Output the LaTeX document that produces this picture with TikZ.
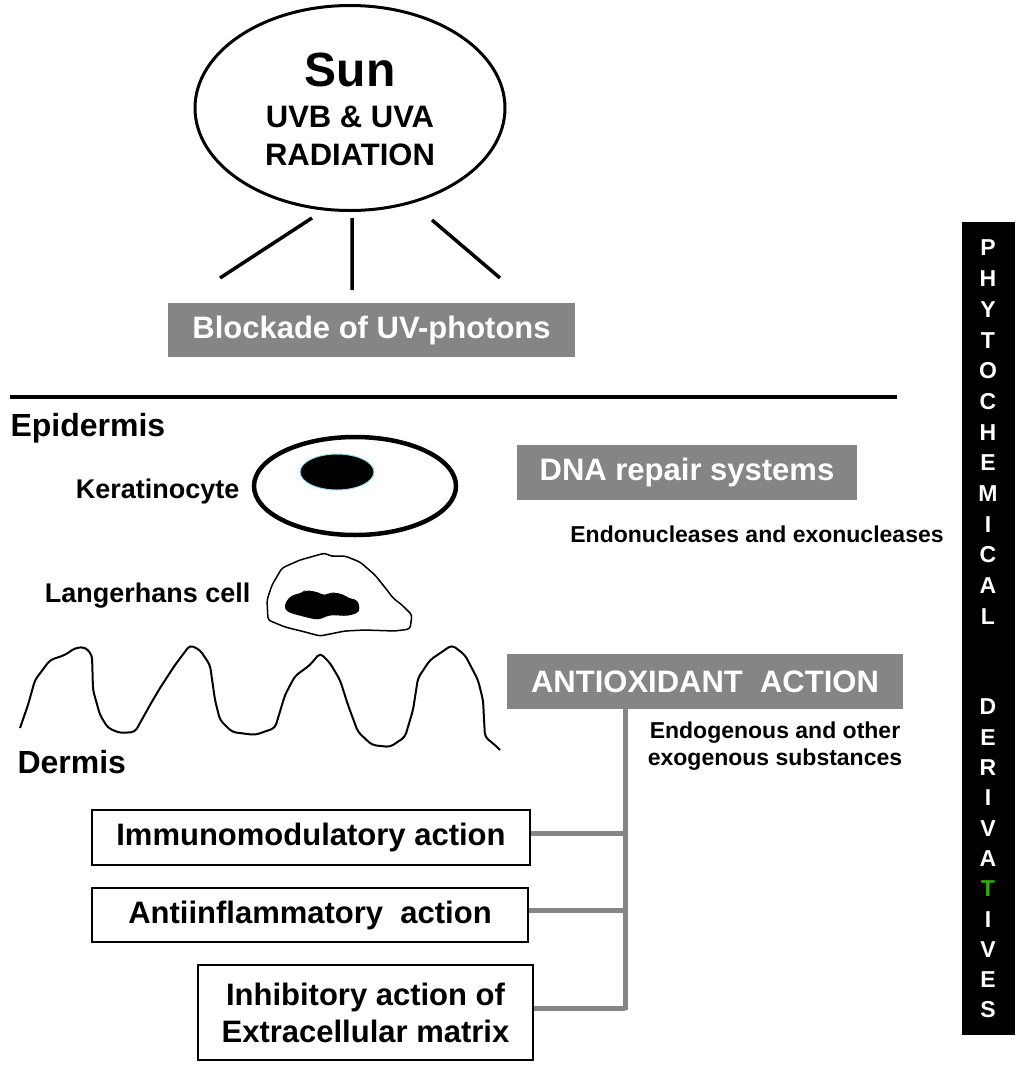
\documentclass[tikz,border=0pt]{standalone}
\usepackage{fontspec}
\setmainfont{Liberation Sans}
\usetikzlibrary{shapes.geometric}
\begin{document}
\begin{tikzpicture}[x=1pt,y=-1pt,
  graybox/.style={fill=black!48,text=white,font=\fontsize{31}{34}\selectfont\bfseries,inner sep=0},
  wbox/.style={draw,line width=2pt,font=\fontsize{31}{37}\selectfont\bfseries,align=center,inner sep=0},
  lbl/.style={font=\fontsize{23}{27}\selectfont\bfseries,align=center},
  cell/.style={font=\fontsize{27}{30}\selectfont\bfseries},
  big/.style={font=\fontsize{32}{36}\selectfont\bfseries},
  barl/.style={text=white,font=\fontsize{23}{23}\selectfont\bfseries},
  conn/.style={draw=black!48,line width=5pt}]
\useasboundingbox (0,0) rectangle (1024,1066);
% sun
\node[ellipse,draw,line width=3pt,minimum width=310,minimum height=205,align=center] (sun) at (350,108) {};
\node[font=\fontsize{48}{52}\selectfont\bfseries] (suntxt) at (350,70) {Sun};
\node[font=\fontsize{31}{38}\selectfont\bfseries,align=center] (uv) at (350,136) {UVB \& UVA\\RADIATION};
\coordinate (r1a) at (312,218); \coordinate (r1b) at (220,278);
\coordinate (r2a) at (352,218); \coordinate (r2b) at (352,290);
\coordinate (r3a) at (432,220); \coordinate (r3b) at (500,278);
\draw[line width=3.5pt] (r1a)--(r1b) (r2a)--(r2b) (r3a)--(r3b);
\node[graybox,minimum width=407,minimum height=54] (block) at (371.5,330) {Blockade of UV-photons};
\coordinate (hl) at (10,397); \coordinate (hr) at (897,397);
\draw[line width=4pt] (hl)--(hr);
\node[big,anchor=west] (epi) at (7,428) {Epidermis};
% keratinocyte
\node[ellipse,draw,line width=4.5pt,minimum width=202,minimum height=98,inner sep=0] (kc) at (355,486) {};
\node[ellipse,fill=black,draw=cyan!40,line width=1pt,minimum width=74,minimum height=36,inner sep=0] (kn) at (337,472) {};
\node[cell,anchor=east] (ker) at (243,492) {Keratinocyte};
% DNA repair
\node[graybox,minimum width=340,minimum height=55] (dna) at (687,472.5) {DNA repair systems};
\node[lbl] (endo) at (757,534) {Endonucleases and exonucleases};
% Langerhans
\node[cell,anchor=east] (lang) at (254,596) {Langerhans cell};
\draw[line width=1.5pt,rounded corners=3pt] (272,585) -- (282,568) -- (300,560) -- (325,553) -- (330,556) -- (345,556) -- (360,562) -- (375,575) -- (387,590) -- (393,598) -- (402,605) -- (412,615) -- (410,629) -- (395,631) -- (365,630) -- (345,631) -- (320,636) -- (305,632) -- (285,627) -- (268,620) -- (267,600) -- cycle;
\fill[black,rounded corners=4pt] (286,601) -- (292,595) -- (302,593) -- (305,590) -- (318,592) -- (325,596) -- (330,592) -- (343,594) -- (348,598) -- (358,600) -- (360,612) -- (348,616) -- (330,615) -- (318,620) -- (305,617) -- (290,613) -- (284,609) -- cycle;
% wave
\draw[line width=2pt,rounded corners=4pt] (20,728) -- (28,705) -- (35,680) -- (50,660) -- (65,655) -- (75,648) -- (85,647) -- (92,655) -- (93,690) -- (100,715) -- (108,728) -- (120,733) -- (135,732) -- (150,705) -- (160,688) -- (175,665) -- (190,645) -- (200,650) -- (210,665) -- (215,700) -- (220,720) -- (232,732) -- (255,735) -- (275,728) -- (285,695) -- (295,676) -- (310,665) -- (320,653) -- (330,663) -- (340,680) -- (348,705) -- (358,732) -- (372,745) -- (390,747) -- (405,737) -- (413,710) -- (418,678) -- (430,660) -- (452,645) -- (465,655) -- (478,680) -- (483,700) -- (485,737) -- (495,745) -- (500,750);
\node[big,anchor=west] (derm) at (14,762) {Dermis};
% antioxidant
\node[graybox,minimum width=396,minimum height=55] (anti) at (705,681.5) {ANTIOXIDANT\ \ ACTION};
\node[lbl] (exo) at (775,746) {Endogenous and other\\exogenous substances};
\coordinate (vt) at (625,709); \coordinate (vb) at (625,1010);
\draw[conn] (vt)--(vb);
\node[wbox,minimum width=438,minimum height=55] (imm) at (311,837.5) {Immunomodulatory action};
\node[wbox,minimum width=436,minimum height=54] (infl) at (310,915) {Antiinflammatory\ \ action};
\node[wbox,minimum width=335,minimum height=95] (inh) at (365.5,1012.5) {Inhibitory action of\\Extracellular matrix};
\coordinate (j1) at (625,833); \coordinate (j2) at (625,910); \coordinate (j3) at (625,1008);
\draw[conn] (imm.east |- j1)--(j1);
\draw[conn] (infl.east |- j2)--(j2);
\draw[conn] (inh.east |- j3)--(j3);
% right bar
\node[fill=black,minimum width=53,minimum height=813,inner sep=0] (bar) at (988.5,628.5) {};
\foreach \c [count=\i] in {P,H,Y,T,O,C,H,E,M,I,C,A,L}
  \node[barl] at (988,248+30.7*\i-30.7) {\c};
\foreach \c [count=\i] in {D,E,R,I,V,A,T,I,V,E,S}
  \node[barl] at (988,707+30.3*\i-30.3) {\c};
\node[barl,text=green!60!black!80!yellow,fill=black] at (988,707+30.3*6) {T};
\end{tikzpicture}
\end{document}
